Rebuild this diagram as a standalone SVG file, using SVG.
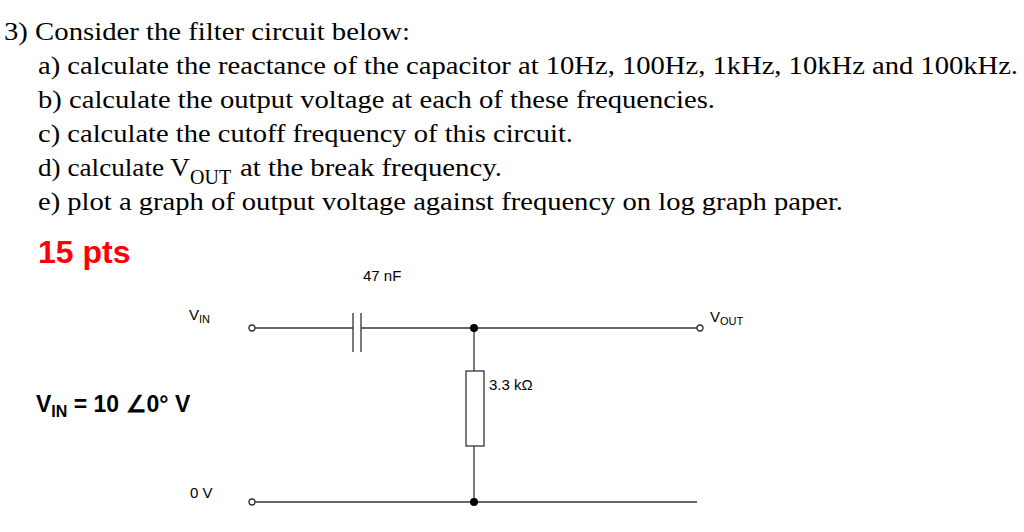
<svg xmlns="http://www.w3.org/2000/svg" width="1024" height="532" viewBox="0 0 1024 532">
<style>
.q{font-family:"Liberation Serif",serif;font-size:26px;fill:#000}
.l{font-family:"Liberation Sans",Arial,sans-serif;font-size:15px;fill:#000}
.w{stroke:#333;stroke-width:1.3;fill:none}
</style>
<rect width="1024" height="532" fill="#fff"/>
<text class="q" x="4" y="40" textLength="406" lengthAdjust="spacingAndGlyphs">3) Consider the filter circuit below:</text>
<text class="q" x="38" y="74" textLength="980" lengthAdjust="spacingAndGlyphs">a) calculate the reactance of the capacitor at 10Hz, 100Hz, 1kHz, 10kHz and 100kHz.</text>
<text class="q" x="38" y="108" textLength="677" lengthAdjust="spacingAndGlyphs">b) calculate the output voltage at each of these frequencies.</text>
<text class="q" x="38" y="142" textLength="535" lengthAdjust="spacingAndGlyphs">c) calculate the cutoff frequency of this circuit.</text>
<text class="q" x="38" y="176"><tspan textLength="152" lengthAdjust="spacingAndGlyphs">d) calculate V</tspan><tspan font-size="20" dy="8">OUT</tspan><tspan dy="-8" x="240" textLength="262" lengthAdjust="spacingAndGlyphs">at the break frequency.</tspan></text>
<text class="q" x="38" y="210" textLength="805" lengthAdjust="spacingAndGlyphs">e) plot a graph of output voltage against frequency on log graph paper.</text>
<text x="38" y="263" font-family="Liberation Sans,Arial,sans-serif" font-weight="bold" font-size="32" fill="#f00">15 pts</text>
<text x="36" y="412" font-family="Liberation Sans,Arial,sans-serif" font-weight="bold" font-size="23">V<tspan font-size="16" dy="5">IN</tspan><tspan dy="-5"> = 10 ∠0° V</tspan></text>
<g id="labels">
<text class="l" x="189" y="320">V<tspan font-size="11" dy="3">IN</tspan></text>
<text class="l" x="710" y="322">V<tspan font-size="11" dy="3">OUT</tspan></text>
<text class="l" x="363" y="281">47 nF</text>
<text class="l" x="489" y="390">3.3 kΩ</text>
<text class="l" x="190" y="498">0 V</text>
</g>
<g id="connectors" class="w">
<line x1="255" y1="328" x2="353" y2="328"/>
<line x1="361" y1="328" x2="697" y2="328"/>
<line x1="255" y1="502" x2="697" y2="502"/>
<line x1="474" y1="328" x2="474" y2="371"/>
<line x1="474" y1="446" x2="474" y2="502"/>
</g>
<g id="capacitor" class="w"><line x1="353" y1="313" x2="353" y2="352"/><line x1="361" y1="313" x2="361" y2="352"/></g>
<g id="resistor"><rect x="466" y="371" width="18" height="75" class="w"/></g>
<g id="terminals" class="w"><circle cx="252" cy="328" r="3"/><circle cx="700" cy="328" r="3"/><circle cx="252" cy="502" r="3"/></g>
<g id="junctions" fill="#000"><circle cx="474" cy="328" r="4"/><circle cx="474" cy="502" r="4"/></g>
</svg>
